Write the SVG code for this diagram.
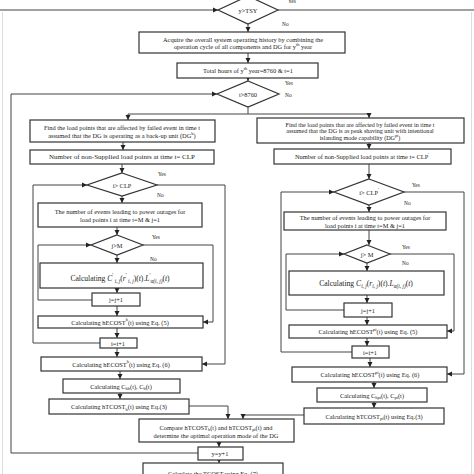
<svg xmlns="http://www.w3.org/2000/svg" width="474" height="474" viewBox="0 0 474 474">
<defs>
<marker id="ah" markerUnits="userSpaceOnUse" markerWidth="6" markerHeight="6" refX="5" refY="3" orient="auto">
<path d="M0,0.5 L5,3 L0,5.5 Z" fill="#222"/>
</marker>
<style>
.b{fill:#fff;stroke:#333;stroke-width:1.2}
.d{fill:#fff;stroke:#333;stroke-width:1.2}
.c{fill:none;stroke:#444;stroke-width:1}
.a{marker-end:url(#ah)}
text{font-family:"Liberation Serif","Times New Roman",serif;fill:#222;font-size:6.4px}
.t{text-anchor:middle;dominant-baseline:central}
.l{font-size:5.4px;dominant-baseline:central}
.f{font-size:7.6px;text-anchor:middle;dominant-baseline:central}
.i{font-style:italic}
.sb{font-size:70%;baseline-shift:sub}
.sp{font-size:70%;baseline-shift:super}
.s3{font-size:6.1px}
</style>
</defs>
<rect width="474" height="474" fill="#fff"/>
<g id="frame">
<line x1="2.5" y1="12" x2="2.5" y2="474" stroke="#ddd" stroke-width="1"/>
<line x1="471.5" y1="12" x2="471.5" y2="474" stroke="#ddd" stroke-width="1"/>
</g>
<g id="connectors">
<polyline class="c a" points="0,10 218,10"/>
<polyline class="c" points="278,10 474,10"/>
<polyline class="c a" points="248,24 248,32"/>
<polyline class="c a" points="248,53 248,63"/>
<polyline class="c a" points="248,78 248,81"/>
<polyline class="c a" points="198,453 11,453 11,94 217,94"/>
<polyline class="c" points="248,107 248,114"/>
<polyline class="c" points="128,114 369,114"/>
<polyline class="c a" points="128,114 128,120"/>
<polyline class="c a" points="369,114 369,118"/>
<polyline class="c a" points="123,142 123,150"/>
<polyline class="c a" points="122,164 122,173"/>
<polyline class="c a" points="100,343 33,343 33,185 87,185"/>
<polyline class="c a" points="157,185 225,185 225,364 202,364"/>
<polyline class="c a" points="122,196 122,203"/>
<polyline class="c a" points="117,227 117,235"/>
<polyline class="c a" points="92,300 38,300 38,245 91,245"/>
<polyline class="c a" points="143,245 213,245 213,322 203,322"/>
<polyline class="c a" points="117,255 117,263"/>
<polyline class="c a" points="117,288 117,293"/>
<polyline class="c a" points="117,306 117,316"/>
<polyline class="c a" points="117,328 117,338"/>
<polyline class="c a" points="117,348 117,357"/>
<polyline class="c a" points="120,371 120,379"/>
<polyline class="c a" points="120,393 120,399"/>
<polyline class="c a" points="189,406 228,406 228,419"/>
<polyline class="c a" points="304,415 243,415 243,419"/>
<polyline class="c a" points="219,442 219,447"/>
<polyline class="c a" points="219,460 219,463"/>
<polyline class="c a" points="369,143 369,149"/>
<polyline class="c a" points="369,164 369,179"/>
<polyline class="c a" points="352,352 281,352 281,192 334,192"/>
<polyline class="c a" points="404,192 464,192 464,374 447,374"/>
<polyline class="c a" points="369,205 369,212"/>
<polyline class="c a" points="369,230 369,245"/>
<polyline class="c a" points="344,310 286,310 286,254 344,254"/>
<polyline class="c a" points="390,254 454,254 454,331 447,331"/>
<polyline class="c a" points="367,263 367,271"/>
<polyline class="c a" points="367,295 367,303"/>
<polyline class="c a" points="367,317 367,325"/>
<polyline class="c a" points="367,338 367,346"/>
<polyline class="c a" points="370,358 370,367"/>
<polyline class="c a" points="374,382 374,388"/>
<polyline class="c a" points="374,402 374,408"/>
</g>
<g id="labels">
<text class="l" x="288" y="1">Yes</text>
<text class="l" x="282" y="24">No</text>
<text class="l" x="285" y="83">Yes</text>
<text class="l" x="285" y="95">No</text>
<text class="l" x="158" y="174">Yes</text>
<text class="l" x="157" y="195">No</text>
<text class="l" x="152" y="237">Yes</text>
<text class="l" x="150" y="259">No</text>
<text class="l" x="412" y="185">Yes</text>
<text class="l" x="404" y="203">No</text>
<text class="l" x="402" y="247">Yes</text>
<text class="l" x="402" y="263">No</text>
</g>
<g id="d_tsy"><polygon class="d" points="248,-4 278,10 248,24 218,10"/><text class="t" x="248" y="10">y&gt;TSY</text></g>
<g id="n_acquire"><rect class="b" x="139" y="32" width="206" height="21"/>
<text class="t" x="243" y="39">Acquire the overall system operating history by combining the</text>
<text class="t" x="243" y="46.5">operation cycle of all components and DG for y<tspan class="sp">th</tspan> year</text></g>
<g id="n_total"><rect class="b" x="177" y="63" width="141" height="15"/><text class="t" x="248" y="70.5">Total hours of y<tspan class="sp">th</tspan> year=8760 &amp; t=1</text></g>
<g id="d_t"><polygon class="d" points="248,81 279,94 248,107 217,94"/><text class="t" x="248" y="94">t&gt;8760</text></g>
<g id="n_a1"><rect class="b" x="30" y="120" width="185" height="22"/>
<text class="t" x="122" y="127.5">Find the load points that are affected by failed event in time t</text>
<text class="t" x="122" y="135.5">assumed that the DG is operating as a back-up unit (DG<tspan class="sp">b</tspan>)</text></g>
<g id="n_a2"><rect class="b" x="30" y="150" width="184" height="14"/><text class="t" x="122" y="157" style="font-size:7px">Number of non-Supplied load points at time t= CLP</text></g>
<g id="d_a"><polygon class="d" points="122,173 157,185 122,196 87,185"/><text class="t" x="122" y="185">i&gt; CLP</text></g>
<g id="n_a3"><rect class="b" x="38" y="203" width="164" height="24"/>
<text class="t" x="120" y="211.5">The number of events leading to power outages for</text>
<text class="t" x="120" y="219.5">load points i  at time t=M &amp; j=1</text></g>
<g id="d_aj"><polygon class="d" points="117,235 143,245 117,255 91,245"/><text class="t" x="117" y="245">j&gt;M</text></g>
<g id="n_a4"><rect class="b" x="40" y="263" width="163" height="25"/>
<text class="f" x="120" y="278">Calculating <tspan class="i">C</tspan><tspan class="sp">'</tspan><tspan class="sb i"> i, j</tspan>(<tspan class="i">r</tspan><tspan class="sp">'</tspan><tspan class="sb i"> i, j</tspan>)(<tspan class="i">t</tspan>).<tspan class="i">L</tspan><tspan class="sp">'</tspan><tspan class="sb i">α(i, j)</tspan>(<tspan class="i">t</tspan>)</text></g>
<g id="n_aj1"><rect class="b" x="92" y="293" width="48" height="13"/><text class="t" x="116" y="299.5">j=j+1</text></g>
<g id="n_a5"><rect class="b" x="38" y="316" width="165" height="12"/><text class="t" x="120" y="322">Calculating hECOST<tspan class="sp">b</tspan>(t) using Eq. (5)</text></g>
<g id="n_ai1"><rect class="b" x="100" y="338" width="37" height="10"/><text class="t" x="118" y="343">i=i+1</text></g>
<g id="n_a6"><rect class="b" x="41" y="357" width="161" height="14"/><text class="t" x="121" y="364">Calculating hECOST<tspan class="sp">b</tspan>(t) using Eq. (6)</text></g>
<g id="n_a7"><rect class="b" x="63" y="379" width="117" height="14"/><text class="t" x="121" y="386">Calculating C<tspan class="sb">hb</tspan>(t), C<tspan class="sb">b</tspan>(t)</text></g>
<g id="n_a8"><rect class="b" x="49" y="399" width="140" height="15"/><text class="t" x="119" y="406.5">Calculating hTCOST<tspan class="sb">b</tspan>(t) using Eq.(3)</text></g>
<g id="n_b1"><rect class="b" x="257" y="118" width="207" height="25"/>
<text class="t s3" x="360" y="124.5">Find the load points that are affected by failed event in time t</text>
<text class="t s3" x="360" y="131">assumed that the DG is as peak shaving unit with intentional</text>
<text class="t s3" x="360" y="138">islanding mode capability (DG<tspan class="sp">pi</tspan>)</text></g>
<g id="n_b2"><rect class="b" x="274" y="149" width="177" height="15"/><text class="t" x="362" y="156.5">Number of non-Supplied load points at time t= CLP<tspan class="sp">'</tspan></text></g>
<g id="d_b"><polygon class="d" points="369,179 404,192 369,205 334,192"/><text class="t" x="369" y="192">i&gt; CLP<tspan class="sp">'</tspan></text></g>
<g id="n_b3"><rect class="b" x="284" y="212" width="162" height="18"/>
<text class="t" x="365" y="217.5">The number of events leading to power outages for</text>
<text class="t" x="365" y="225">load points i at time t=M &amp; j=1</text></g>
<g id="d_bj"><polygon class="d" points="367,245 390,254 367,263 344,254"/><text class="t" x="367" y="254">j&gt; M</text></g>
<g id="n_b4"><rect class="b" x="289" y="271" width="155" height="24"/>
<text class="f" x="366" y="283">Calculating <tspan class="i">C</tspan><tspan class="sb i">i, j</tspan>(<tspan class="i">r</tspan><tspan class="sb i">i, j</tspan>)(<tspan class="i">t</tspan>).<tspan class="i">L</tspan><tspan class="sb i">α(i, j)</tspan>(<tspan class="i">t</tspan>)</text></g>
<g id="n_bj1"><rect class="b" x="344" y="303" width="48" height="14"/><text class="t" x="368" y="310">j=j+1</text></g>
<g id="n_b5"><rect class="b" x="289" y="325" width="158" height="13"/><text class="t" x="368" y="331.5">Calculating hECOST<tspan class="sp">pi</tspan>(t) using Eq. (5)</text></g>
<g id="n_bi1"><rect class="b" x="352" y="346" width="37" height="12"/><text class="t" x="370" y="352">i=i+1</text></g>
<g id="n_b6"><rect class="b" x="292" y="367" width="155" height="15"/><text class="t" x="370" y="374.5">Calculating hECOST<tspan class="sp">pi</tspan>(t) using Eq. (6)</text></g>
<g id="n_b7"><rect class="b" x="317" y="388" width="110" height="14"/><text class="t" x="372" y="395">Calculating C<tspan class="sb">hpi</tspan>(t), C<tspan class="sb">pi</tspan>(t)</text></g>
<g id="n_b8"><rect class="b" x="304" y="408" width="140" height="16"/><text class="t" x="374" y="416">Calculating hTCOST<tspan class="sb">pi</tspan>(t) using Eq.(3)</text></g>
<g id="n_compare"><rect class="b" x="139" y="419" width="155" height="23"/>
<text class="t" x="216" y="427">Compare hTCOST<tspan class="sb">b</tspan>(t) and hTCOST<tspan class="sb">pi</tspan>(t) and</text>
<text class="t" x="216" y="435">determine the optimal operation mode of the DG</text></g>
<g id="n_y1"><rect class="b" x="198" y="447" width="45" height="13"/><text class="t" x="220" y="453.5">y=y+1</text></g>
<g id="n_final"><rect class="b" x="143" y="463" width="140" height="20"/><text class="t" x="213" y="473">Calculate the TCOST using Eq. (7)</text></g>
</svg>
